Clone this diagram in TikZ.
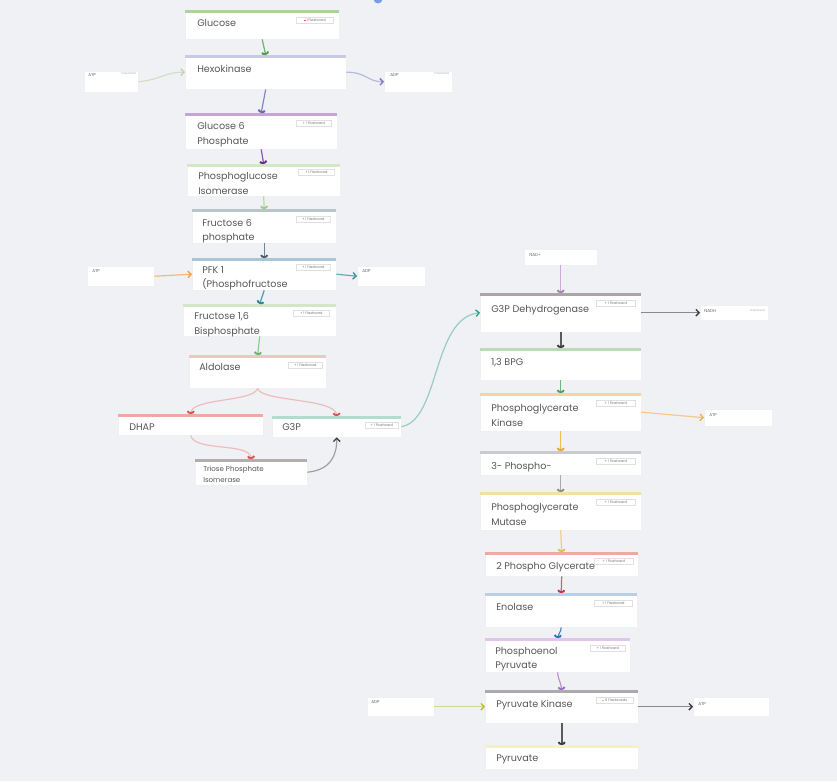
\documentclass[tikz,border=0pt]{standalone}
\usepackage{fontspec}
\setmainfont{Poppins}
\usetikzlibrary{arrows.meta,shadows}
\definecolor{bg}{HTML}{F0F1F5}
\definecolor{txt}{HTML}{585858}
\definecolor{cglu}{HTML}{A9D49F}
\definecolor{chex}{HTML}{C8CAE6}
\definecolor{cg6p}{HTML}{C7A3D9}
\definecolor{cpgi}{HTML}{D5E8C6}
\definecolor{cf6p}{HTML}{B9C5CB}
\definecolor{cpfk}{HTML}{A7C7D6}
\definecolor{cf16}{HTML}{D3E6CA}
\definecolor{cald}{HTML}{F2C4C4}
\definecolor{cdhap}{HTML}{EFA9A3}
\definecolor{cg3p}{HTML}{B4DCCD}
\definecolor{ctpi}{HTML}{B5ACAC}
\definecolor{cgdh}{HTML}{ADA5A5}
\definecolor{cbpg}{HTML}{B9DDB3}
\definecolor{cpgk}{HTML}{F7D3A3}
\definecolor{cp3}{HTML}{CACBD0}
\definecolor{cpgm}{HTML}{F4E1A2}
\definecolor{cpg2}{HTML}{EFA9A1}
\definecolor{ceno}{HTML}{B8CFE7}
\definecolor{cpep}{HTML}{E2C6EA}
\definecolor{cpk}{HTML}{ABABAB}
\definecolor{cpyr}{HTML}{F4F0CB}
\definecolor{dot}{HTML}{7A9BE8}
\definecolor{tagred}{HTML}{E06060}
\definecolor{tagorg}{HTML}{F0B860}
% connector colours
\definecolor{lgreen}{HTML}{6DB36D}\definecolor{hgreen}{HTML}{4E9E4E}
\definecolor{lpale}{HTML}{D2DEC8}\definecolor{hpale}{HTML}{BCD3AE}
\definecolor{llav}{HTML}{B8B8DE}\definecolor{hlav}{HTML}{7A7AC4}
\definecolor{lblu}{HTML}{8484C2}\definecolor{hblu}{HTML}{6A6AB4}
\definecolor{lpur}{HTML}{8A55B0}\definecolor{hpur}{HTML}{6A2C9A}
\definecolor{llgr}{HTML}{B8D8A0}\definecolor{hlgr}{HTML}{A0C888}
\definecolor{lslate}{HTML}{6E8290}\definecolor{hslate}{HTML}{4A5E6A}
\definecolor{lorg}{HTML}{F4B878}\definecolor{horg}{HTML}{F0A050}
\definecolor{lteal}{HTML}{6AAAB8}\definecolor{hteal}{HTML}{3A8E9E}
\definecolor{lteal2}{HTML}{4A9AA8}\definecolor{hteal2}{HTML}{2E8494}
\definecolor{lgr2}{HTML}{90CC90}\definecolor{hgr2}{HTML}{6CB46C}
\definecolor{lpink}{HTML}{EDBDBD}\definecolor{hred}{HTML}{D9534F}
\definecolor{lgray}{HTML}{A0A0A0}\definecolor{hdark}{HTML}{3A3A3A}
\definecolor{lsea}{HTML}{98CCC4}\definecolor{hsea}{HTML}{2A9D8F}
\definecolor{lmauve}{HTML}{CFA8DC}\definecolor{hmauve}{HTML}{9A88A8}
\definecolor{lgray2}{HTML}{8A8A8A}
\definecolor{ldark}{HTML}{5A5A5A}
\definecolor{lbgrn}{HTML}{6AB87A}\definecolor{hbgrn}{HTML}{4E9E5E}
\definecolor{lpeach}{HTML}{F6C88A}\definecolor{hpeach}{HTML}{F0B050}
\definecolor{lor2}{HTML}{F2BA50}\definecolor{hor2}{HTML}{E8A830}
\definecolor{lgr3}{HTML}{A8A8AE}\definecolor{hgr3}{HTML}{8A8A90}
\definecolor{lyel}{HTML}{F2D070}\definecolor{hyel}{HTML}{E8BE40}
\definecolor{lred}{HTML}{D86060}\definecolor{hred2}{HTML}{C03838}
\definecolor{lbl2}{HTML}{4A8ACA}\definecolor{hbl2}{HTML}{2E70B8}
\definecolor{lvio}{HTML}{BC8ED2}\definecolor{hvio}{HTML}{A070C0}
\definecolor{lyg}{HTML}{D0D890}\definecolor{hyg}{HTML}{B8C030}
\tikzset{
  cardbox/.style={fill=white, draw=black!6, line width=0.3pt, inner sep=0pt, drop shadow={shadow xshift=0pt, shadow yshift=-0.8pt, opacity=0.12}},
  smallbox/.style={fill=white, draw=black!6, line width=0.3pt, inner sep=0pt, drop shadow={shadow xshift=0pt, shadow yshift=-0.6pt, opacity=0.08}},
  lbl/.style={inner sep=0pt, text=txt, font=\fontsize{7.2}{9}\selectfont},
  smalllbl/.style={inner sep=0pt, text=txt, font=\fontsize{5.3}{6}\selectfont},
  tinylbl/.style={inner sep=0pt, text=black!60, font=\fontsize{3.2}{4}\selectfont},
  microlbl/.style={inner sep=0pt, text=black!35, font=\fontsize{2}{2}\selectfont},
  tagbox/.style={fill=white, draw=black!12, line width=0.3pt, inner sep=0pt, font=\fontsize{2.6}{3}\selectfont, text=black!55},
  con/.style={line width=0.9pt},
  vtip/.style={-{Arc Barb[length=2.2pt,width=6pt,line width=1.4pt,color=#1]}},
  htip/.style={-{Straight Barb[length=2.4pt,width=5pt,line width=1pt,color=#1]}}
}
\newcommand\card[6]{%
  \node[cardbox, minimum width={(#4-#2)*0.75pt}, minimum height={(#5-#3)*0.75pt}, anchor=north west] (#1) at (#2,#3) {};
  \draw[#6, line width=2pt] ([yshift=-0.9pt]#1.north west) -- ([yshift=-0.9pt]#1.north east);}
\newcommand\smbox[5]{%
  \node[smallbox, minimum width={(#4-#2)*0.75pt}, minimum height={(#5-#3)*0.75pt}, anchor=north west] (#1) at (#2,#3) {};}
\newcommand\ftag[5]{%
  \node[tagbox, minimum width={(#4-#2)*0.75pt}, minimum height=4.4pt, anchor=north west] (#1) at (#2,#3) {#5};}
\begin{document}
\begin{tikzpicture}[x=0.75pt,y=-0.75pt]
\fill[bg] (0,0) rectangle (837,781);
\useasboundingbox (0,0) rectangle (837,781);
\begin{scope}
\clip (0,0) rectangle (837,781);
\fill[dot] (378,-1) circle (4.5);
\end{scope}

% ---------- left column ----------
\card{glu}{185}{10}{339}{39}{cglu}
\node[lbl, anchor=base west] (glut) at (197,27) {Glucose};
\ftag{glutag}{296}{17}{333}{\textcolor{tagred}{\rule{1.4pt}{1.4pt}}\ 1 Flashcard}

\card{hex}{185}{55}{346}{89}{chex}
\node[lbl, anchor=base west] (hext) at (197,73) {Hexokinase};

\smbox{atp1}{84}{71}{138}{92}
\node[tinylbl, anchor=base west] (atp1t) at (88,77) {ATP};
\node[microlbl, anchor=base east] (atp1g) at (136,75) {1 Flashcard};
\smbox{adp1}{384}{71}{452}{92}
\node[tinylbl, anchor=base west] (adp1t) at (390,77) {ADP};
\node[microlbl, anchor=base east] (adp1g) at (449,75) {1 Flashcard};

\card{g6p}{185}{113}{337}{149}{cg6p}
\node[lbl, anchor=base west] (g6pt1) at (197,130) {Glucose 6};
\node[lbl, anchor=base west] (g6pt2) at (197,144) {Phosphate};
\ftag{g6ptag}{296}{120}{331}{+ 1 Flashcard}

\card{pgi}{187}{164}{340}{196}{cpgi}
\node[lbl, anchor=base west] (pgit1) at (198,179) {Phosphoglucose};
\node[lbl, anchor=base west] (pgit2) at (198,194) {Isomerase};
\ftag{pgitag}{298}{169}{334}{+ 1 Flashcard}

\card{f6p}{192}{209}{336}{243}{cf6p}
\node[lbl, anchor=base west] (f6pt1) at (202,226) {Fructose 6};
\node[lbl, anchor=base west] (f6pt2) at (202,240) {phosphate};
\ftag{f6ptag}{296}{216}{330}{+ 1 Flashcard}

\card{pfk}{192}{258}{336}{290}{cpfk}
\node[lbl, anchor=base west] (pfkt1) at (202,273) {PFK 1};
\node[lbl, anchor=base west] (pfkt2) at (202,287) {(Phosphofructose};
\ftag{pfktag}{296}{264}{330}{+ 1 Flashcard}

\smbox{atp2}{87}{266}{154}{286}
\node[tinylbl, anchor=base west] (atp2t) at (92,272) {ATP};
\smbox{adp2}{357}{266}{425}{286}
\node[tinylbl, anchor=base west] (adp2t) at (362,272) {ADP};

\card{f16}{183}{304}{336}{336}{cf16}
\node[lbl, anchor=base west] (f16t1) at (194,319) {Fructose 1,6};
\node[lbl, anchor=base west] (f16t2) at (194,334) {Bisphosphate};
\ftag{f16tag}{293}{310}{329}{+ 1 Flashcard}

\card{ald}{189}{355}{326}{388}{cald}
\node[lbl, anchor=base west] (aldt) at (199,370) {Aldolase};
\ftag{aldtag}{288}{362}{322}{+ 1 Flashcard}

\card{dhap}{118}{414}{263}{435}{cdhap}
\node[lbl, anchor=base west] (dhapt) at (129,430) {DHAP};

\card{g3p}{272}{416}{401}{437}{cg3p}
\node[lbl, anchor=base west] (g3pt) at (282,430) {G3P};
\ftag{g3ptag}{365}{422}{398}{+ 1 Flashcard}

\card{tpi}{195}{459}{307}{485}{ctpi}
\node[smalllbl, anchor=base west] (tpit1) at (203,471) {Triose Phosphate};
\node[smalllbl, anchor=base west] (tpit2) at (203,482) {Isomerase};

% ---------- right column ----------
\smbox{nad}{524}{249}{597}{265}
\node[tinylbl, anchor=base west] (nadt) at (529,256) {NAD+};

\card{gdh}{480}{293}{641}{332}{cgdh}
\node[lbl, anchor=base west] (gdht) at (491,312) {G3P Dehydrogenase};
\ftag{gdhtag}{596}{300}{635}{+ 1 Flashcard}

\smbox{nadh}{700}{305}{768}{320}
\node[tinylbl, anchor=base west] (nadht) at (704,312) {NADH};
\node[microlbl, anchor=base east] (nadhg) at (765,311) {1 Flashcard};

\card{bpg}{480}{348}{641}{380}{cbpg}
\node[lbl, anchor=base west] (bpgt) at (491,365) {1,3 BPG};

\card{pgk}{480}{393}{641}{431}{cpgk}
\node[lbl, anchor=base west] (pgkt1) at (491,411) {Phosphoglycerate};
\node[lbl, anchor=base west] (pgkt2) at (491,426) {Kinase};
\ftag{pgktag}{596}{400}{635}{+ 1 Flashcard}

\smbox{atp3}{704}{409}{772}{426}
\node[tinylbl, anchor=base west] (atp3t) at (709,416) {ATP};

\card{p3}{480}{451}{641}{475}{cp3}
\node[lbl, anchor=base west] (p3t) at (491,469) {3- Phospho-};
\ftag{p3tag}{596}{458}{635}{+ 1 Flashcard}

\card{pgm}{480}{492}{641}{530}{cpgm}
\node[lbl, anchor=base west] (pgmt1) at (491,510) {Phosphoglycerate};
\node[lbl, anchor=base west] (pgmt2) at (491,525) {Mutase};
\ftag{pgmtag}{596}{499}{635}{+ 1 Flashcard}

\card{pg2}{485}{552}{638}{576}{cpg2}
\node[lbl, anchor=base west] (pg2t) at (496,569) {2 Phospho Glycerate};
\ftag{pg2tag}{594}{558}{633}{+ 1 Flashcard}

\card{eno}{485}{593}{637}{627}{ceno}
\node[lbl, anchor=base west] (enot) at (496,610) {Enolase};
\ftag{enotag}{594}{600}{632}{+ 1 Flashcard}

\card{pep}{485}{638}{630}{672}{cpep}
\node[lbl, anchor=base west] (pept1) at (495,654) {Phosphoenol};
\node[lbl, anchor=base west] (pept2) at (495,668) {Pyruvate};
\ftag{peptag}{590}{645}{625}{+ 1 Flashcard}

\card{pk}{485}{690}{638}{723}{cpk}
\node[lbl, anchor=base west] (pkt) at (496,707) {Pyruvate Kinase};
\ftag{pktag}{596}{697}{633}{\textcolor{tagorg}{\rule{1.4pt}{1.4pt}}\ 0 Flashcards}

\smbox{adp3}{367}{697}{434}{716}
\node[tinylbl, anchor=base west] (adp3t) at (371,703) {ADP};
\smbox{atp4}{693}{697}{769}{716}
\node[tinylbl, anchor=base west] (atp4t) at (698,705) {ATP};

\card{pyr}{485}{745}{638}{769}{cpyr}
\node[lbl, anchor=base west] (pyrt) at (496,761) {Pyruvate};

% ---------- connectors ----------
\draw[con, lgreen, vtip=hgreen] (glu.south) -- (hex.north);
\draw[con, lpale, htip=hpale] (atp1.east) .. controls (160,80) and (165,72) .. (hex.west);
\draw[con, llav, htip=hlav] (hex.east) .. controls (366,72) and (368,82) .. (adp1.west);
\draw[con, lblu, vtip=hblu] (hex.south) -- (g6p.north);
\draw[con, lpur, vtip=hpur] (g6p.south) -- (pgi.north);
\draw[con, llgr, vtip=hlgr] (pgi.south) -- (f6p.north);
\draw[con, lslate, vtip=hslate] (f6p.south) -- (pfk.north);
\draw[con, lorg, htip=horg] (atp2.east) -- (pfk.west);
\draw[con, lteal, htip=hteal] (pfk.east) -- (adp2.west);
\draw[con, lteal2, vtip=hteal2] (pfk.south) -- (f16.north);
\draw[con, lgr2, vtip=hgr2] (f16.south) -- (ald.north);
\draw[con, lpink, vtip=hred] (ald.south) .. controls (254,402) and (191,398) .. (dhap.north);
\draw[con, lpink, vtip=hred] (ald.south) .. controls (261,402) and (336,398) .. (g3p.north);
\draw[con, lpink, vtip=hred] (dhap.south) .. controls (194,452) and (250,442) .. (tpi.north);
\draw[con, lgray, htip=hdark] (tpi.east) .. controls (330,470) and (337,456) .. (g3p.south);
\draw[con, lsea, htip=hsea] (g3p.east) .. controls (440,420) and (432,318) .. (gdh.west);

\draw[con, lmauve, vtip=hmauve] (nad.south) -- (gdh.north);
\draw[con, lgray2, htip=hdark] (gdh.east) -- (nadh.west);
\draw[con, ldark, line width=1.3pt, vtip=hdark] (gdh.south) -- (bpg.north);
\draw[con, lbgrn, vtip=hbgrn] (bpg.south) -- (pgk.north);
\draw[con, lpeach, htip=hpeach] (pgk.east) -- (atp3.west);
\draw[con, lor2, vtip=hor2] (pgk.south) -- (p3.north);
\draw[con, lgr3, vtip=hgr3] (p3.south) -- (pgm.north);
\draw[con, lyel, vtip=hyel] (pgm.south) -- (pg2.north);
\draw[con, lred, vtip=hred2] (pg2.south) -- (eno.north);
\draw[con, lbl2, vtip=hbl2] (eno.south) .. controls (561,633) and (558,633) .. (pep.north);
\draw[con, lvio, vtip=hvio] (pep.south) .. controls (558,680) and (561,682) .. (pk.north);
\draw[con, lyg, htip=hyg] (adp3.east) -- (pk.west);
\draw[con, lgray2, htip=hdark] (pk.east) -- (atp4.west);
\draw[con, ldark, line width=1.3pt, vtip=hdark] (pk.south) -- (pyr.north);
\end{tikzpicture}
\end{document}
